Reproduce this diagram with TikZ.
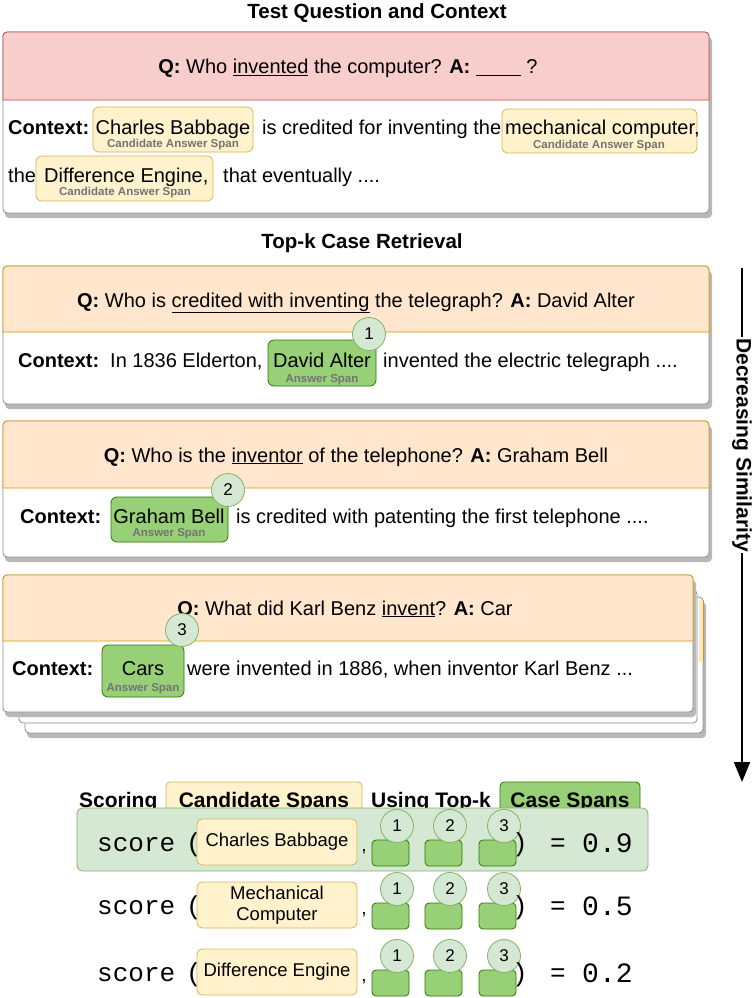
\documentclass[tikz,border=0pt]{standalone}
\usepackage{fontspec}
\setmainfont{Liberation Sans}
\setmonofont{Liberation Mono}
\usetikzlibrary{arrows.meta,calc}
\definecolor{redF}{HTML}{F8CECC}\definecolor{redS}{HTML}{B85450}
\definecolor{orF}{HTML}{FFE6CC}\definecolor{orS}{HTML}{D79B00}
\definecolor{yeF}{HTML}{FFF2CC}\definecolor{yeS}{HTML}{D6B656}
\definecolor{grF}{HTML}{97D077}\definecolor{grS}{HTML}{2D7600}
\definecolor{lgF}{HTML}{D5E8D4}\definecolor{lgS}{HTML}{82B366}
\definecolor{shad}{HTML}{B8B8B8}
\tikzset{
 txt/.style={font=\fontsize{20}{22}\selectfont, inner sep=0pt, anchor=base west},
 ctxt/.style={font=\fontsize{20}{22}\selectfont, inner sep=0pt, anchor=base},
 ttl/.style={font=\bfseries\fontsize{20.5}{22}\selectfont, inner sep=0pt},
 sttl/.style={font=\bfseries\fontsize{21}{23}\selectfont, inner sep=0pt, anchor=base},
 sub/.style={font=\bfseries\fontsize{11.5}{13}\selectfont, text=black!55, inner sep=0pt},
 cand/.style={draw=yeS, fill=yeF, rounded corners=6pt, line width=0.8pt},
 ans/.style={draw=grS, fill=grF, rounded corners=6pt, line width=0.8pt},
 numc/.style={circle, draw=lgS, fill=lgF, line width=0.8pt, minimum size=33pt, inner sep=0pt, font=\fontsize{17}{18}\selectfont},
 card/.style={draw=black!45, fill=white, rounded corners=4pt, line width=0.8pt},
 mono/.style={font=\ttfamily\fontsize{26}{28}\selectfont, inner sep=0pt, anchor=base west},
 stxt/.style={font=\fontsize{18.5}{21}\selectfont, inner sep=0pt, align=center},
}
\newcommand{\mycard}[6]{%
 \fill[shad, rounded corners=4pt] (#1+2,#2+5) rectangle (#3+3,#4+5);
 \draw[card] (#1,#2) rectangle (#3,#4);
 \path[draw=#6S, fill=#6F, line width=0.8pt] (#1,#5) {[rounded corners=4pt] -- (#1,#2) -- (#3,#2)} -- (#3,#5) -- cycle;
}
\newcommand{\casesq}[4]{%
 \draw[ans, rounded corners=4pt] (#2,#3) rectangle (#2+37,#3+26);
 \node[numc] (#1) at (#2+25,#3-14) {#4};
}
\begin{document}
\begin{tikzpicture}[x=1pt,y=-1pt]
\useasboundingbox (0,0) rectangle (753,998);
% ---------- Test question
\node[ttl] (t1) at (377,13) {Test Question and Context};
\mycard{3}{32}{709}{213}{100}{red}
\node[ctxt] (q0) at (348,74) {\textbf{Q:} Who \underline{invented} the computer? \textbf{A:} \underline{\hspace{45pt}} ?};
\node[txt] (c0) at (8,134) {\textbf{Context:}};
\draw[cand] (93,107) rectangle (253,152);
\node[ctxt] (cb) at (173,134) {Charles Babbage};
\node[sub] (cbs) at (173,145) {Candidate Answer Span};
\node[txt] (c0b) at (262,134) {is credited for inventing the};
\draw[cand] (502,109) rectangle (697,153);
\node[txt] (mc) at (505,134) {mechanical computer,};
\node[sub] (mcs) at (599,146) {Candidate Answer Span};
\node[txt] (the) at (8,182) {the};
\draw[cand] (36,156) rectangle (213,201);
\node[txt] (de) at (44,182) {Difference Engine,};
\node[sub] (des) at (125,193) {Candidate Answer Span};
\node[txt] (te) at (223,182) {that eventually ....};
% ---------- retrieval
\node[ttl] (t2) at (362,243) {Top-k Case Retrieval};
\mycard{3}{266}{709}{404}{332}{or}
\node[ctxt] (q1) at (356,307) {\textbf{Q:} Who is \underline{credited with inventing} the telegraph? \textbf{A:} David Alter};
\node[txt] (c1) at (18,367) {\textbf{Context:}};
\node[txt] (c1a) at (110,367) {In 1836 Elderton,};
\draw[ans] (268,340) rectangle (376,386);
\node[ctxt] (da) at (322,367) {David Alter};
\node[sub] (das) at (322,380) {Answer Span};
\node[numc] (n1) at (369,334) {1};
\node[txt] (c1b) at (383,367) {invented the electric telegraph ....};
\mycard{3}{421}{709}{557}{488}{or}
\node[ctxt] (q2) at (356,462) {\textbf{Q:} Who is the \underline{inventor} of the telephone? \textbf{A:} Graham Bell};
\node[txt] (c2) at (20,523) {\textbf{Context:}};
\draw[ans] (111,497) rectangle (228,542);
\node[ctxt] (gb) at (169,523) {Graham Bell};
\node[sub] (gbs) at (169,534) {Answer Span};
\node[numc] (n2) at (228,490) {2};
\node[txt] (c2b) at (236,523) {is credited with patenting the first telephone ....};
% stacked
\fill[shad, rounded corners=4pt] (27,602) rectangle (706,738);
\draw[card] (25,597) rectangle (703,733);
\fill[orF] (699,600) rectangle (703,662);
\draw[orS, line width=0.8pt] (703,600) -- (703,662);
\draw[card] (19,590) rectangle (697,723);
\mycard{3}{575}{693}{712}{641}{or}
\node[ctxt] (q3) at (345,615) {\textbf{Q:} What did Karl Benz \underline{invent}? \textbf{A:} Car};
\node[txt] (c3) at (12,675) {\textbf{Context:}};
\draw[ans] (102,645) rectangle (184,697);
\node[ctxt] (cars) at (143,675) {Cars};
\node[sub] (carss) at (143,689) {Answer Span};
\node[numc] (n3) at (182,630) {3};
\node[txt] (c3b) at (187,675) {were invented in 1886, when inventor Karl Benz ...};
% arrow
\coordinate (atop) at (742,268);
\coordinate (abot) at (742,782);
\draw[line width=2pt, -{Triangle[length=20pt,width=16pt]}] (atop) -- (abot);
\node[fill=white, rotate=-90, inner sep=1pt, font=\bfseries\fontsize{21}{23}\selectfont] (dec) at (742,445) {Decreasing Similarity};
% ---------- scoring title
\draw[cand, rounded corners=4pt] (166,782) rectangle (362,817);
\draw[ans, rounded corners=4pt] (500,782) rectangle (640,817);
\node[sttl, anchor=base west] (s1) at (79,807) {Scoring};
\node[sttl] (s2) at (264,807) {Candidate Spans};
\node[sttl] (s3) at (431,807) {Using Top-k};
\node[sttl] (s4) at (570,807) {Case Spans};
% ---------- score rows
\draw[draw=lgS, fill=lgF, rounded corners=6pt, line width=0.8pt] (77,808) rectangle (648,871);
\foreach \yy/\lbl/\val/\rr in {842/Charles Babbage/0.9/a, 905/{Mechanical\\Computer}/0.5/b, 972/Difference Engine/0.2/c}{
 \node[mono] (sc\rr) at (97,\yy+9) {score};
 \node[mono] (op\rr) at (186,\yy+9) {(};
 \draw[cand, rounded corners=5pt] (197,\yy-23) rectangle (357,\yy+23);
 \node[stxt] (cs\rr) at (277,\yy) {\lbl};
 \node[font=\fontsize{19}{21}\selectfont, inner sep=0pt, anchor=base] (cm\rr) at (364,\yy+9) {,};
 \casesq{ka\rr}{372}{\yy-2}{1}
 \casesq{kb\rr}{425}{\yy-2}{2}
 \casesq{kc\rr}{479}{\yy-2}{3}
 \node[mono] (cp\rr) at (512,\yy+9) {)};
 \node[mono] (eq\rr) at (550,\yy+9) {=};
 \node[mono, font=\ttfamily\fontsize{28}{30}\selectfont] (v\rr) at (582,\yy+10) {\val};
}
\end{tikzpicture}
\end{document}
